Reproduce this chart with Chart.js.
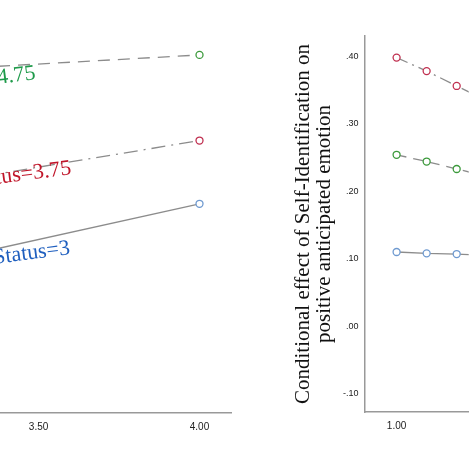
<!DOCTYPE html>
<html><head><meta charset="utf-8">
<script src="https://cdn.jsdelivr.net/npm/chart.js@4"></script>
<style>
body{margin:0;width:474px;height:474px;overflow:hidden;background:#fff;position:relative}
#wl{position:absolute;left:-6px;top:0;width:243px;height:474px}
#wr{position:absolute;left:237px;top:0;width:237px;height:474px}
</style></head><body>
<div id="wl"><canvas id="left"></canvas></div>
<div id="wr"><canvas id="right"></canvas></div>
<script>
// linker Teil: Werte an x=3.25 und x=4.00
const leftX = [3.25, 4.00];
const leftGreen = [354, 368];
const leftRed = [239, 280];
const leftBlue = [160, 215];
const leftTicks = [3.5, 4.0];

// rechter Teil
const rightX = [1.00, 1.25, 1.50, 1.75];
const rightRed = [0.398, 0.378, 0.356, 0.334];
const rightGreen = [0.254, 0.244, 0.233, 0.222];
const rightBlue = [0.110, 0.108, 0.107, 0.105];
const rightYTicks = [-0.10, 0.00, 0.10, 0.20, 0.30, 0.40];
const rightXTicks = [1.00];

const serif = '"Liberation Serif", "DejaVu Serif", serif';
const sans = '"Liberation Sans", Arial, sans-serif';

function pts(xs, ys) { return xs.map((x, i) => ({x: x, y: ys[i]})); }
function fmt(v) { return v.toFixed(2).replace(/^0\./, '.').replace(/^-0\./, '-.'); }

const labelPlugin = {
  id: 'lbl',
  afterDatasetsDraw(chart) {
    const c = chart.ctx;
    c.save();
    c.font = '22px ' + serif;
    const items = [['4.75', '#1e9a4a', 4, 84], ['tus=3.75', '#c0162a', 2, 184], ['Status=3', '#1f5fbf', 0, 264]];
    items.forEach(it => {
      c.save();
      c.translate(it[2], it[3]);
      c.rotate(-0.13);
      c.fillStyle = it[1];
      c.fillText(it[0], 0, 0);
      c.restore();
    });
    c.restore();
  }
};

new Chart(document.getElementById('left'), {
  type: 'line',
  data: {
    datasets: [
      {data: pts(leftX, leftGreen), borderColor: '#8c8c8c', borderDash: [12, 8], pointBorderColor: '#3c9a3c'},
      {data: pts(leftX, leftRed), borderColor: '#8c8c8c', borderDash: [14, 6, 2, 6], pointBorderColor: '#c03050'},
      {data: pts(leftX, leftBlue), borderColor: '#8c8c8c', pointBorderColor: '#6f9ad0'}
    ].map(d => Object.assign(d, {borderWidth: 1.3, pointRadius: [0, 3.5], pointBackgroundColor: '#fff', pointBorderWidth: 1.3}))
  },
  options: {
    animation: false, responsive: true, maintainAspectRatio: false,
    layout: {padding: {left: 0, right: 0, top: 0, bottom: 33}},
    plugins: {legend: {display: false}, tooltip: {enabled: false}},
    scales: {
      x: {type: 'linear', min: 3.378, max: 4.1,
          afterBuildTicks: a => { a.ticks = leftTicks.map(v => ({value: v})); },
          grid: {display: false, drawTicks: false},
          border: {color: '#999', width: 1.5},
          ticks: {padding: 8, color: '#222', font: {family: sans, size: 10}, callback: v => v.toFixed(2)}},
      y: {display: false, min: 0, max: 419}
    }
  },
  plugins: [labelPlugin]
});

new Chart(document.getElementById('right'), {
  type: 'line',
  data: {
    datasets: [
      {data: pts(rightX, rightRed), borderColor: '#8c8c8c', borderDash: [12, 5, 2, 5], pointBorderColor: '#c03050'},
      {data: pts(rightX, rightGreen), borderColor: '#8c8c8c', borderDash: [10, 7], pointBorderColor: '#3c9a3c'},
      {data: pts(rightX, rightBlue), borderColor: '#8c8c8c', pointBorderColor: '#6f9ad0'}
    ].map(d => Object.assign(d, {borderWidth: 1.3, pointRadius: 3.5, pointBackgroundColor: '#fff', pointBorderWidth: 1.3}))
  },
  options: {
    animation: false, responsive: true, maintainAspectRatio: false,
    layout: {padding: {left: 56, top: 36, right: 0, bottom: 34}},
    plugins: {legend: {display: false}, tooltip: {enabled: false}},
    scales: {
      x: {type: 'linear', min: 0.733, max: 1.6,
          afterBuildTicks: a => { a.ticks = rightXTicks.map(v => ({value: v})); },
          grid: {display: false, drawTicks: false},
          border: {color: '#999', width: 1.5},
          ticks: {padding: 8, color: '#222', font: {family: sans, size: 10}, callback: v => v.toFixed(2)}},
      y: {min: -0.127, max: 0.43,
          afterBuildTicks: a => { a.ticks = rightYTicks.map(v => ({value: v})); },
          grid: {display: false, drawTicks: false},
          border: {color: '#999', width: 1.5},
          ticks: {padding: 6, color: '#222', font: {family: sans, size: 9}, callback: v => fmt(v)},
          title: {display: true, text: ['Conditional effect of Self-Identification on', 'positive anticipated emotion'],
                  color: '#111', font: {family: serif, size: 21, lineHeight: 1.0}, padding: {top: 0, bottom: 2}}}
    }
  }
});
</script>
</body></html>
